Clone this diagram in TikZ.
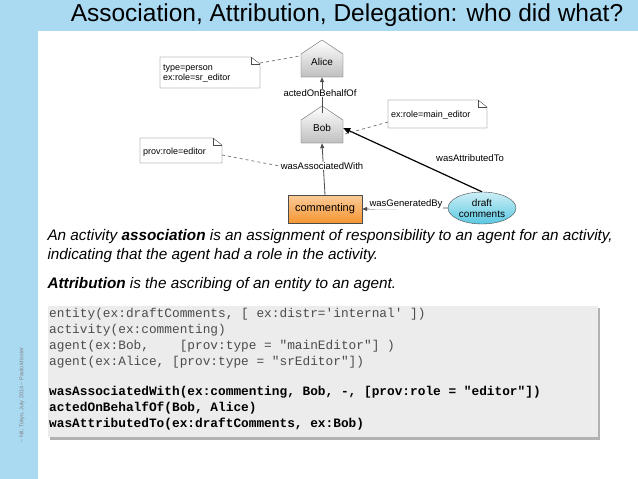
\documentclass[tikz,border=0pt]{standalone}
\usepackage{fontspec}
\setmainfont{Liberation Sans}
\newfontfamily\monof{Liberation Mono}
\usetikzlibrary{shapes.geometric,arrows.meta}
\definecolor{sky}{RGB}{170,218,242}
\definecolor{orng}{RGB}{245,150,50}
\definecolor{cyn}{RGB}{90,200,225}
\tikzset{
  lbl/.style={font=\fontsize{9.5}{10}\selectfont, fill=white, inner sep=1pt},
  note/.style={font=\fontsize{9}{10.5}\selectfont, align=left, anchor=north west, inner sep=3pt},
  dsh/.style={dashed, gray, thick},
  arr/.style={-{Triangle[length=5pt,width=4pt]}, gray!60!black, thick},
  body/.style={font=\fontsize{15.3}{18}\selectfont\itshape, anchor=west},
}
\begin{document}
\begin{tikzpicture}[x=1pt,y=-1pt]
\useasboundingbox (0,0) rectangle (638,479);
\fill[white] (0,0) rectangle (638,479);
\fill[sky] (0,0) rectangle (638,31);
\fill[sky] (0,31) rectangle (38,479);
\node[font=\fontsize{24.5}{26}\selectfont, anchor=center] (title) at (347,15) {Association, Attribution, Delegation: who did what?};
\node[rotate=90, font=\fontsize{5.5}{6}\selectfont, text=gray] (side) at (22,395) {-- NII, Tokyo, July 2014 -- Paolo Missier};
% agents
\foreach \n/\cy/\t in {alice/62/Alice, bob/128/Bob}{
  \shadedraw[top color=white, bottom color=gray!50, draw=gray!70!black]
    (301,\cy-8) -- (322,\cy-22) -- (343,\cy-8) -- (343,\cy+15) -- (301,\cy+15) -- cycle;
  \node[font=\fontsize{10}{11}\selectfont, inner sep=0pt, minimum width=42pt, minimum height=30pt] (\n) at (322,\cy) {\t};
}
\node[font=\fontsize{11}{12}\selectfont, draw=gray!60!black, minimum width=74pt, minimum height=28pt, top color=orng!50, bottom color=orng] (comm) at (325,209) {commenting};
\node[ellipse, draw=gray!60!black, top color=cyn!30, bottom color=cyn, minimum width=68pt, minimum height=32pt, align=center, font=\fontsize{10}{11}\selectfont, inner sep=0pt] (draft) at (482,208) {draft\\comments};
% notes
\foreach \n/\x/\y/\w/\h/\t in {n1/160/57/100/31/{type=person\\ex:role=sr\_editor}, n2/388/100/99/28/{ex:role=main\_editor}, n3/140/138/82/25/{prov:role=editor}}{
  \draw[gray!60!black, fill=white] (\x,\y) -- (\x+\w-9,\y) -- (\x+\w,\y+7) -- (\x+\w,\y+\h) -- (\x,\y+\h) -- cycle;
  \draw[gray!60!black] (\x+\w-9,\y) -- (\x+\w-9,\y+7) -- (\x+\w,\y+7);
  \node[note, text width=\w pt-6pt, minimum height=\h pt] (\n) at (\x,\y+1) {\t};
}
% connectors
\draw[arr] (bob.north) -- (alice.south);
\node[lbl] (l1) at (320,93) {actedOnBehalfOf};
\draw[arr] (comm.north) -- (bob.south);
\node[lbl] (l2) at (322,166) {wasAssociatedWith};
\draw[-{Triangle[length=7pt,width=6pt]}, black, line width=1.2pt] (draft.north) -- (bob.east);
\node[lbl] (l3) at (470,158) {wasAttributedTo};
\draw[arr] (draft.west) -- (comm.east);
\node[lbl] (l4) at (406,204) {wasGeneratedBy};
\coordinate (an) at (300,56);
\coordinate (bn) at (345,134);
\coordinate (n1e) at (260,63);
\coordinate (n2w) at (388,122);
\coordinate (n3e) at (222,155);
\draw[dsh] (n1e) -- (an);
\draw[dsh] (n2w) -- (bn);
\draw[dsh] (n3e) -- (l2.west);
% text
\node[body] (t1) at (44,237) {An activity \textbf{association} is an assignment of responsibility to an agent for an activity,};
\node[body] (t2) at (44,256) {indicating that the agent had a role in the activity.};
\node[body] (t3) at (44,285) {\textbf{Attribution} is the ascribing of an entity to an agent.};
% code box
\fill[gray!60] (50,308) rectangle (600,440);
\fill[gray!15] (48,306) rectangle (598,437);
\node[anchor=north west, align=left, font=\monof\fontsize{12.8}{16}\selectfont, text=black!70, inner sep=0pt] (code) at (49,308) {entity(ex:draftComments, [ ex:distr='internal' ])\\
activity(ex:commenting)\\
agent(ex:Bob,\ \ \ \ [prov:type = "mainEditor"] )\\
agent(ex:Alice, [prov:type = "srEditor"])\\[14pt]
\textcolor{black}{\bfseries wasAssociatedWith(ex:commenting, Bob, -, [prov:role = "editor"])}\\
\textcolor{black}{\bfseries actedOnBehalfOf(Bob, Alice)}\\
\textcolor{black}{\bfseries wasAttributedTo(ex:draftComments, ex:Bob)}};
\end{tikzpicture}
\end{document}
